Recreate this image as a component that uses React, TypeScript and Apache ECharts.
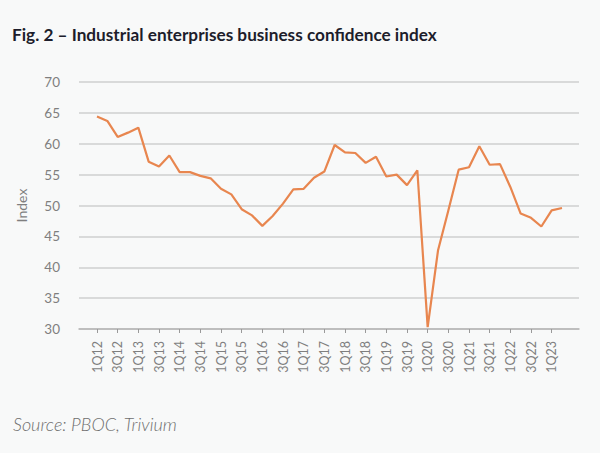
import React, { useEffect, useRef } from "react";
import * as echarts from "echarts";

// Quarterly categories, 1Q12 through 2Q23
const quarters: string[] = [];
for (let y = 12; y <= 23; y++) {
  for (let q = 1; q <= 4; q++) {
    if (y === 23 && q > 2) break;
    quarters.push(`${q}Q${y}`);
  }
}

// Business confidence index of industrial enterprises
const confidence: number[] = [
  64.4, 63.7, 61.1, 61.8, 62.6, 57.1, 56.3, 58.1, 55.4, 55.4,
  54.8, 54.4, 52.7, 51.8, 49.4, 48.4, 46.7, 48.3, 50.3, 52.6,
  52.7, 54.5, 55.5, 59.8, 58.6, 58.5, 56.9, 57.9, 54.7, 55.0,
  53.3, 55.7, 30.3, 42.7, 49.2, 55.8, 56.2, 59.6, 56.6, 56.7,
  53.0, 48.7, 48.0, 46.6, 49.2, 49.6,
];

const yTicks = { min: 30, max: 70, step: 5 };

const TITLE = "Fig. 2 \u2013 Industrial enterprises business confidence index";
const SOURCE = "Source: PBOC, Trivium";

export default function App() {
  const ref = useRef<HTMLDivElement>(null);

  useEffect(() => {
    if (!ref.current) return;
    const chart = echarts.init(ref.current, null, { renderer: "svg" });
    const gray = "#7f7f7f";
    chart.setOption({
      animation: false,
      backgroundColor: "#f8f9f9",
      textStyle: { fontFamily: "Lato, 'Noto Sans', sans-serif" },
      graphic: [
        {
          type: "text",
          left: 12,
          top: 26,
          style: {
            text: TITLE,
            fontFamily: "Lato",
            fontWeight: 700,
            fontSize: 17.2,
            fill: "#1d1d2b",
          },
        },
        {
          type: "text",
          left: 13,
          top: 415,
          style: {
            text: SOURCE,
            fontFamily: "Lato",
            fontStyle: "italic",
            fontWeight: 300,
            fontSize: 18,
            fill: "#6f6f6f",
          },
        },
      ],
      grid: [
        // frame: gridlines and the baseline across the full plot width
        { left: 79, top: 82, width: 500, height: 247 },
        // data area: first and last quarter inset from the frame
        { left: 97, top: 82, width: 465, height: 247 },
      ],
      xAxis: [
        {
          gridIndex: 0,
          type: "category",
          data: [""],
          axisLine: { show: true, lineStyle: { color: "#b5b5b5", width: 1.5 } },
          axisTick: { show: false },
          axisLabel: { show: false },
        },
        {
          gridIndex: 1,
          type: "category",
          data: quarters,
          boundaryGap: false,
          axisLine: { show: false },
          axisTick: {
            show: true,
            interval: 1,
            length: 4,
            lineStyle: { color: "#9a9a9a" },
          },
          axisLabel: {
            interval: 1,
            rotate: 90,
            margin: 12,
            fontSize: 12.5,
            color: gray,
            fontFamily: "Lato",
          },
        },
      ],
      yAxis: [
        {
          gridIndex: 0,
          type: "value",
          min: yTicks.min,
          max: yTicks.max,
          interval: yTicks.step,
          name: "Index",
          nameLocation: "middle",
          nameGap: 51,
          nameTextStyle: { color: gray, fontSize: 14, fontFamily: "Lato" },
          axisLine: { show: false },
          axisTick: { show: false },
          axisLabel: { color: gray, fontSize: 13.5, margin: 19, fontFamily: "Lato" },
          splitLine: { lineStyle: { color: "#cfcfcf", width: 1.5 } },
        },
        {
          gridIndex: 1,
          type: "value",
          min: yTicks.min,
          max: yTicks.max,
          show: false,
          splitLine: { show: false },
        },
      ],
      series: [
        {
          type: "line",
          xAxisIndex: 1,
          yAxisIndex: 1,
          data: confidence,
          symbol: "none",
          lineStyle: { color: "#e8864f", width: 2.2 },
          itemStyle: { color: "#e8864f" },
        },
      ],
    });
    return () => chart.dispose();
  }, []);

  return (
    <div
      ref={ref}
      style={{ position: "fixed", left: 0, top: 0, width: 600, height: 453 }}
    />
  );
}
